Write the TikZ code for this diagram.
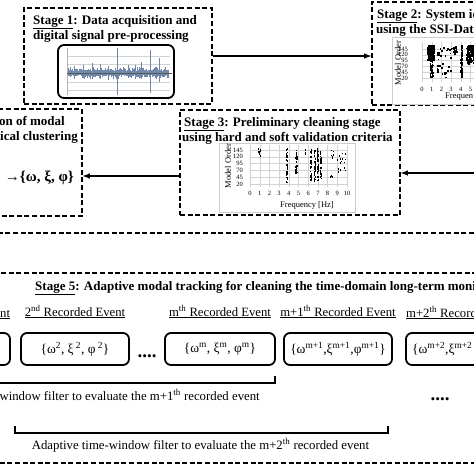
\documentclass[tikz,border=0pt]{standalone}
\usepackage{fontspec}
\setmainfont{Liberation Serif}
\usetikzlibrary{positioning}
\definecolor{wave}{RGB}{112,136,170}
\begin{document}
\begin{tikzpicture}[x=1pt,y=-1pt,>=latex]
	\tikzstyle{stage}=[draw,dash pattern=on 5pt off 2.6pt,line width=1.3pt,inner sep=0pt]
	\tikzstyle{title}=[font=\fontsize{13}{15}\selectfont\bfseries,inner sep=0pt,anchor=base west]
	\tikzstyle{event}=[draw,rounded corners=6pt,line width=1.8pt,minimum height=32pt,font=\fontsize{13.4}{15}\selectfont,inner sep=0pt]
	\tikzstyle{evlabel}=[font=\fontsize{12.7}{14}\selectfont,inner sep=0pt,anchor=base]
	\tikzstyle{note}=[font=\fontsize{12.8}{14}\selectfont,inner sep=0pt]
	\tikzstyle{dots}=[font=\fontsize{19}{20}\selectfont\bfseries,inner sep=0pt,anchor=base]
	\tikzstyle{tick}=[font=\fontsize{6.5}{7}\selectfont,inner sep=0pt]
	\tikzstyle{axlabel}=[font=\fontsize{8.5}{9}\selectfont,inner sep=0pt]
	\tikzstyle{grid}=[gray!35,line width=0.3pt]
	\tikzstyle{flow}=[->,line width=1.5pt]
	\useasboundingbox (0,0) rectangle (474,474);
	\clip (0,0) rectangle (474,474);
	% stage frames
	\draw[stage] (-10,-10) rectangle (484,233);
	\node[stage,minimum width=188pt,minimum height=96pt] (s_1) at (118,56) {};
	\node[stage,minimum width=208pt,minimum height=103pt] (s_2) at (476,53.5) {};
	\node[stage,minimum width=220pt,minimum height=105pt] (s_3) at (290,162.5) {};
	\node[stage,minimum width=202pt,minimum height=107pt] (s_4) at (-19,162.5) {};
	\node[stage,minimum width=520pt,minimum height=190pt] (s_5) at (237,368) {};
	% titles
	\node[title] (t_1) at (33,24) {\underline{Stage 1}: Data acquisition and};
	\node[title] (t_1b) at (33,39) {digital signal pre-processing};
	\node[title] (t_2) at (377,18) {\underline{Stage 2}: System id};
	\node[title] (t_2b) at (376,33) {using the SSI-Dat};
	\node[title] (t_3) at (184,126) {\underline{Stage 3}: Preliminary cleaning stage};
	\node[title] (t_3b) at (182,141) {using hard and soft validation criteria};
	\node[title,anchor=base east] (t_4) at (65,125) {on of modal};
	\node[title,anchor=base east] (t_4b) at (78,140) {ical clustering};
	\node[title,anchor=base east,font=\fontsize{15}{17}\selectfont\bfseries] (f_4) at (74,181) {→\{ω, ξ, φ\}};
	\node[title] (t_5) at (35,290) {\underline{Stage 5}: Adaptive modal tracking for cleaning the time-domain long-term moni};
	% flow between stages
	\coordinate (c_2) at (480,173);
	\draw[flow] (s_1.east) -- (s_1.east -| s_2.west);
	\draw[flow] (c_2) -- (c_2 -| s_3.east);
	\draw[flow] ([yshift=-13.5pt]s_3.west) -- ([yshift=-13.5pt]s_3.west -| s_4.east);
	% stage 1 signal
	\node[event,minimum width=116pt,minimum height=53pt] (sig) at (116,71.5) {};
	\foreach \y in {56,64,82,90} \draw[grid] (67,\y) -- (170,\y);
	\draw[gray!60,line width=0.4pt] (67,48) -- (67,95);
	\pgfmathsetseed{11}
	\foreach \i in {0,...,200} {
		\pgfmathsetmacro\xx{68+0.5*\i}
		\pgfmathsetmacro\up{2+5*rnd*rnd}
		\pgfmathsetmacro\dn{2+4.5*rnd*rnd}
		\draw[wave,line width=0.5pt] (\xx,73-\up) -- (\xx,73+\dn);
	}
	\foreach \x/\u/\d in {117/25/22,150/23/20,92/10/6,141/11/6,159/15/9,100/9/6,128/8/5,83/8/5,74/7/6,108/7/7,135/8/6}
		\draw[wave,line width=0.6pt] (\x,73-\u) -- (\x,73+\d);
	\draw[black!65,line width=0.6pt] (67,73) -- (172,73);
	% stage 2 diagram
	\draw[gray!40,line width=0.4pt] (392,37) rectangle (490,104);
	\foreach \f in {0,...,6} \draw[grid] (422+9.7*\f,42) -- (422+9.7*\f,82);
	\foreach \k in {0,...,5} \draw[grid] (422,49+5.8*\k) -- (490,49+5.8*\k);
	\foreach \o [count=\k from 0] in {145,120,95,70,45,20} \node[tick,anchor=east] at (408,49+5.8*\k) {\o};
	\foreach \f in {0,...,5} \node[tick] at (422+9.7*\f,89) {\f};
	\node[axlabel,rotate=90] at (398,63) {Model Order};
	\node[axlabel,anchor=west] at (445,97) {Frequen};
	\foreach \f/\w/\lo/\hi/\n in {0.95/0.7/95/160/200,1.0/0.25/20/100/40,2.4/1.8/20/150/35,3.4/0.4/120/160/20,4.1/0.12/20/160/70,5.0/0.8/80/160/120}
		\foreach \j in {1,...,\n} {
			\pgfmathsetmacro\px{422+9.7*(\f+\w*(rnd-0.5))}
			\pgfmathsetmacro\py{78-(\lo+(\hi-\lo)*rnd-20)*0.232}
			\fill (\px-0.8,\py-0.9) rectangle (\px+0.8,\py+0.9);
		}
	% stage 3 diagram
	\draw[gray!40,line width=0.4pt] (219,143) rectangle (355,212);
	\foreach \f in {0,...,10} \draw[grid] (250+9.7*\f,145) -- (250+9.7*\f,187);
	\foreach \k in {0,...,5} \draw[grid] (250,150+6.8*\k) -- (347,150+6.8*\k);
	\foreach \o [count=\k from 0] in {145,120,95,70,45,20} \node[tick,anchor=east] at (243,150+6.8*\k) {\o};
	\foreach \f in {0,...,10} \node[tick] at (250+9.7*\f,193) {\f};
	\node[axlabel,rotate=90] at (228,166) {Model Order};
	\node[axlabel] at (307,205) {Frequency [Hz]};
	\foreach \f/\w/\lo/\hi/\n in {1.0/0.3/120/150/8,3.8/0.15/20/150/40,4.8/0.15/60/150/25,5.7/0.1/130/150/5,6.3/0.1/30/150/30,6.7/0.1/25/150/35,7.0/0.1/30/150/35,7.3/0.1/40/150/25,8.5/0.3/110/150/6,8.5/0.4/40/50/3,9.3/0.5/60/150/10,9.8/0.2/30/150/6}
		\foreach \j in {1,...,\n} {
			\pgfmathsetmacro\px{250+9.7*(\f+\w*(rnd-0.5))}
			\pgfmathsetmacro\py{184-(\lo+(\hi-\lo)*rnd-20)*0.272}
			\fill (\px-0.6,\py-0.8) rectangle (\px+0.6,\py+0.8);
		}
	% stage 5 events
	\node[event,minimum width=110pt] (ev_1) at (-45,349) {};
	\node[event,minimum width=108pt] (ev_2) at (75,349) {\{ω\textsuperscript{2}, ξ\,\textsuperscript{2}, φ\,\textsuperscript{2}\}};
	\node[event,minimum width=110pt] (ev_m) at (220,349) {\{ω\textsuperscript{m}, ξ\textsuperscript{m}, φ\textsuperscript{m}\}};
	\node[event,minimum width=108pt] (ev_m1) at (338,349) {\{ω\textsuperscript{m+1},ξ\textsuperscript{m+1},φ\textsuperscript{m+1}\}};
	\node[event,minimum width=108pt] (ev_m2) at (460,349) {};
	\node[font=\fontsize{13.4}{15}\selectfont,inner sep=0pt,anchor=west] (f_m2) at (412,349) {\{ω\textsuperscript{m+2},ξ\textsuperscript{m+2}};
	\node[evlabel,anchor=base west] (l_1) at (0,317) {\underline{nt}};
	\node[evlabel] (l_2) at ([yshift=16pt]ev_2.north) {\underline{2\textsuperscript{nd} Recorded Event}};
	\node[evlabel] (l_m) at ([yshift=16pt]ev_m.north) {\underline{m\textsuperscript{th} Recorded Event}};
	\node[evlabel] (l_m1) at ([yshift=16pt]ev_m1.north) {\underline{m+1\textsuperscript{th} Recorded Event}};
	\node[evlabel,anchor=base west] (l_m2) at (406,317) {\underline{m+2\textsuperscript{th} Record}};
	\node[dots] (d_1) at (147,357) {....};
	\node[dots] (d_2) at (440,400) {....};
	% time-window filters
	\draw[line width=1.1pt] (-20,383) -- (275,383) -- (275,376);
	\draw[line width=1.1pt] (15,426) -- (15,433) -- (388,433) -- (388,426);
	\node[note,anchor=base east] (w_1) at (260,400) {window filter to evaluate the m+1\textsuperscript{th} recorded event};
	\node[note,anchor=base] (w_2) at (200.5,449) {Adaptive time-window filter to evaluate the m+2\textsuperscript{th} recorded event};
\end{tikzpicture}
\end{document}
